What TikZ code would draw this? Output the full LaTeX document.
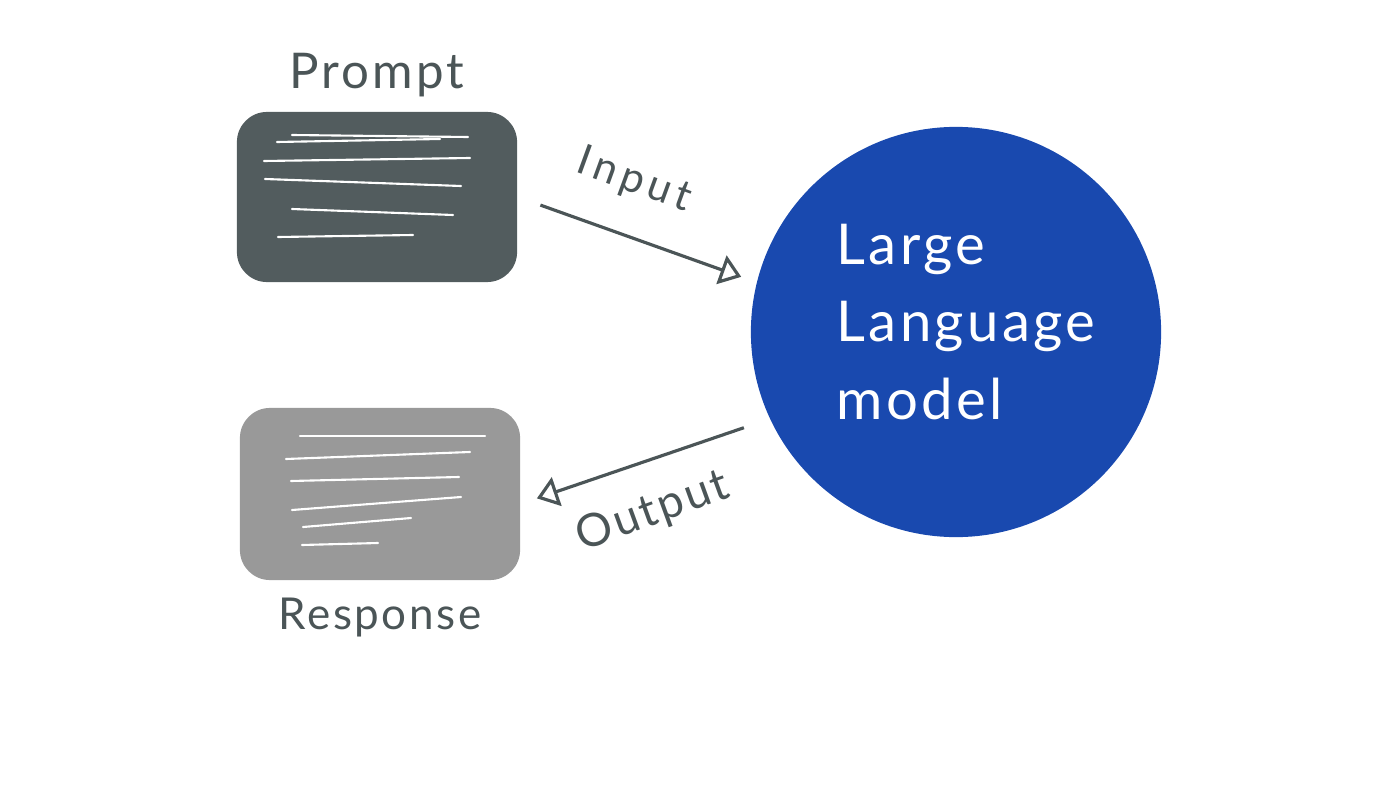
\documentclass[tikz,border=0pt]{standalone}
\usepackage{fontspec}
\setmainfont{Lato}[LetterSpace=6]
\usetikzlibrary{positioning,arrows.meta}
\definecolor{promptgray}{HTML}{525C5E}
\definecolor{respgray}{HTML}{999999}
\definecolor{llmblue}{HTML}{1949AF}
\definecolor{inkgray}{HTML}{4B5557}

\begin{document}
\begin{tikzpicture}[x=0.01cm,y=-0.01cm,
    pad/.style={rounded corners=0.3cm,minimum width=2.8cm,minimum height=1.7cm,inner sep=0},
    ink/.style={text=inkgray,inner sep=0},
    scribble/.style={white,line width=0.6pt,line cap=round},
    flow/.style={inkgray,line width=0.9pt,-{Triangle[open,length=0.21cm,width=0.3cm]}}]
        \useasboundingbox (0,0) rectangle (1400,788);
        \node[pad,fill=promptgray] (prompt) at (377,197) {};
        \node[pad,fill=respgray,minimum height=1.72cm] (response) at (380,494) {};
        \node[circle,fill=llmblue,minimum size=4.1cm,inner sep=0,
            label={[text=white,align=left,font=\fontsize{16}{22}\selectfont,xshift=0.1cm,yshift=0.1cm]center:Large\\Language\\model}]
            (llm) at (956,332) {};
        \node[ink,font=\fontsize{14}{16}\selectfont,above=0.14cm of prompt] (promptlbl) {Prompt};
        \node[ink,font=\fontsize{12.5}{15}\selectfont,below=0.17cm of response] (resplbl) {Response};
        % scribbled text lines
        \foreach \xa/\ya/\xb/\yb in {292/135/468/137, 277/142/440/139, 264/161/470/158,
            265/179/461/186, 292/209/453/215, 278/237/413/235}
        \draw[scribble] (\xa,\ya) -- (\xb,\yb);
        \foreach \xa/\ya/\xb/\yb in {300/436/485/436, 286/459/470/452, 291/481/459/477,
            292/510/461/497, 303/527/411/518, 302/545/378/543}
        \draw[scribble] (\xa,\ya) -- (\xb,\yb);
        \draw[flow,shorten <=0.24cm,shorten >=0.16cm] (prompt.east) -- (llm.166);
        \draw[flow,shorten <=0.27cm,shorten >=0.17cm] (llm.205) -- (response.356);
        \node[ink,font=\fontsize{12}{14}\selectfont\addfontfeature{LetterSpace=12},rotate=-20] (inlbl) at (634,181) {Input};
        \node[ink,font=\fontsize{13}{15}\selectfont,rotate=20] (outlbl) at (653,512) {Output};
\end{tikzpicture}
\end{document}
